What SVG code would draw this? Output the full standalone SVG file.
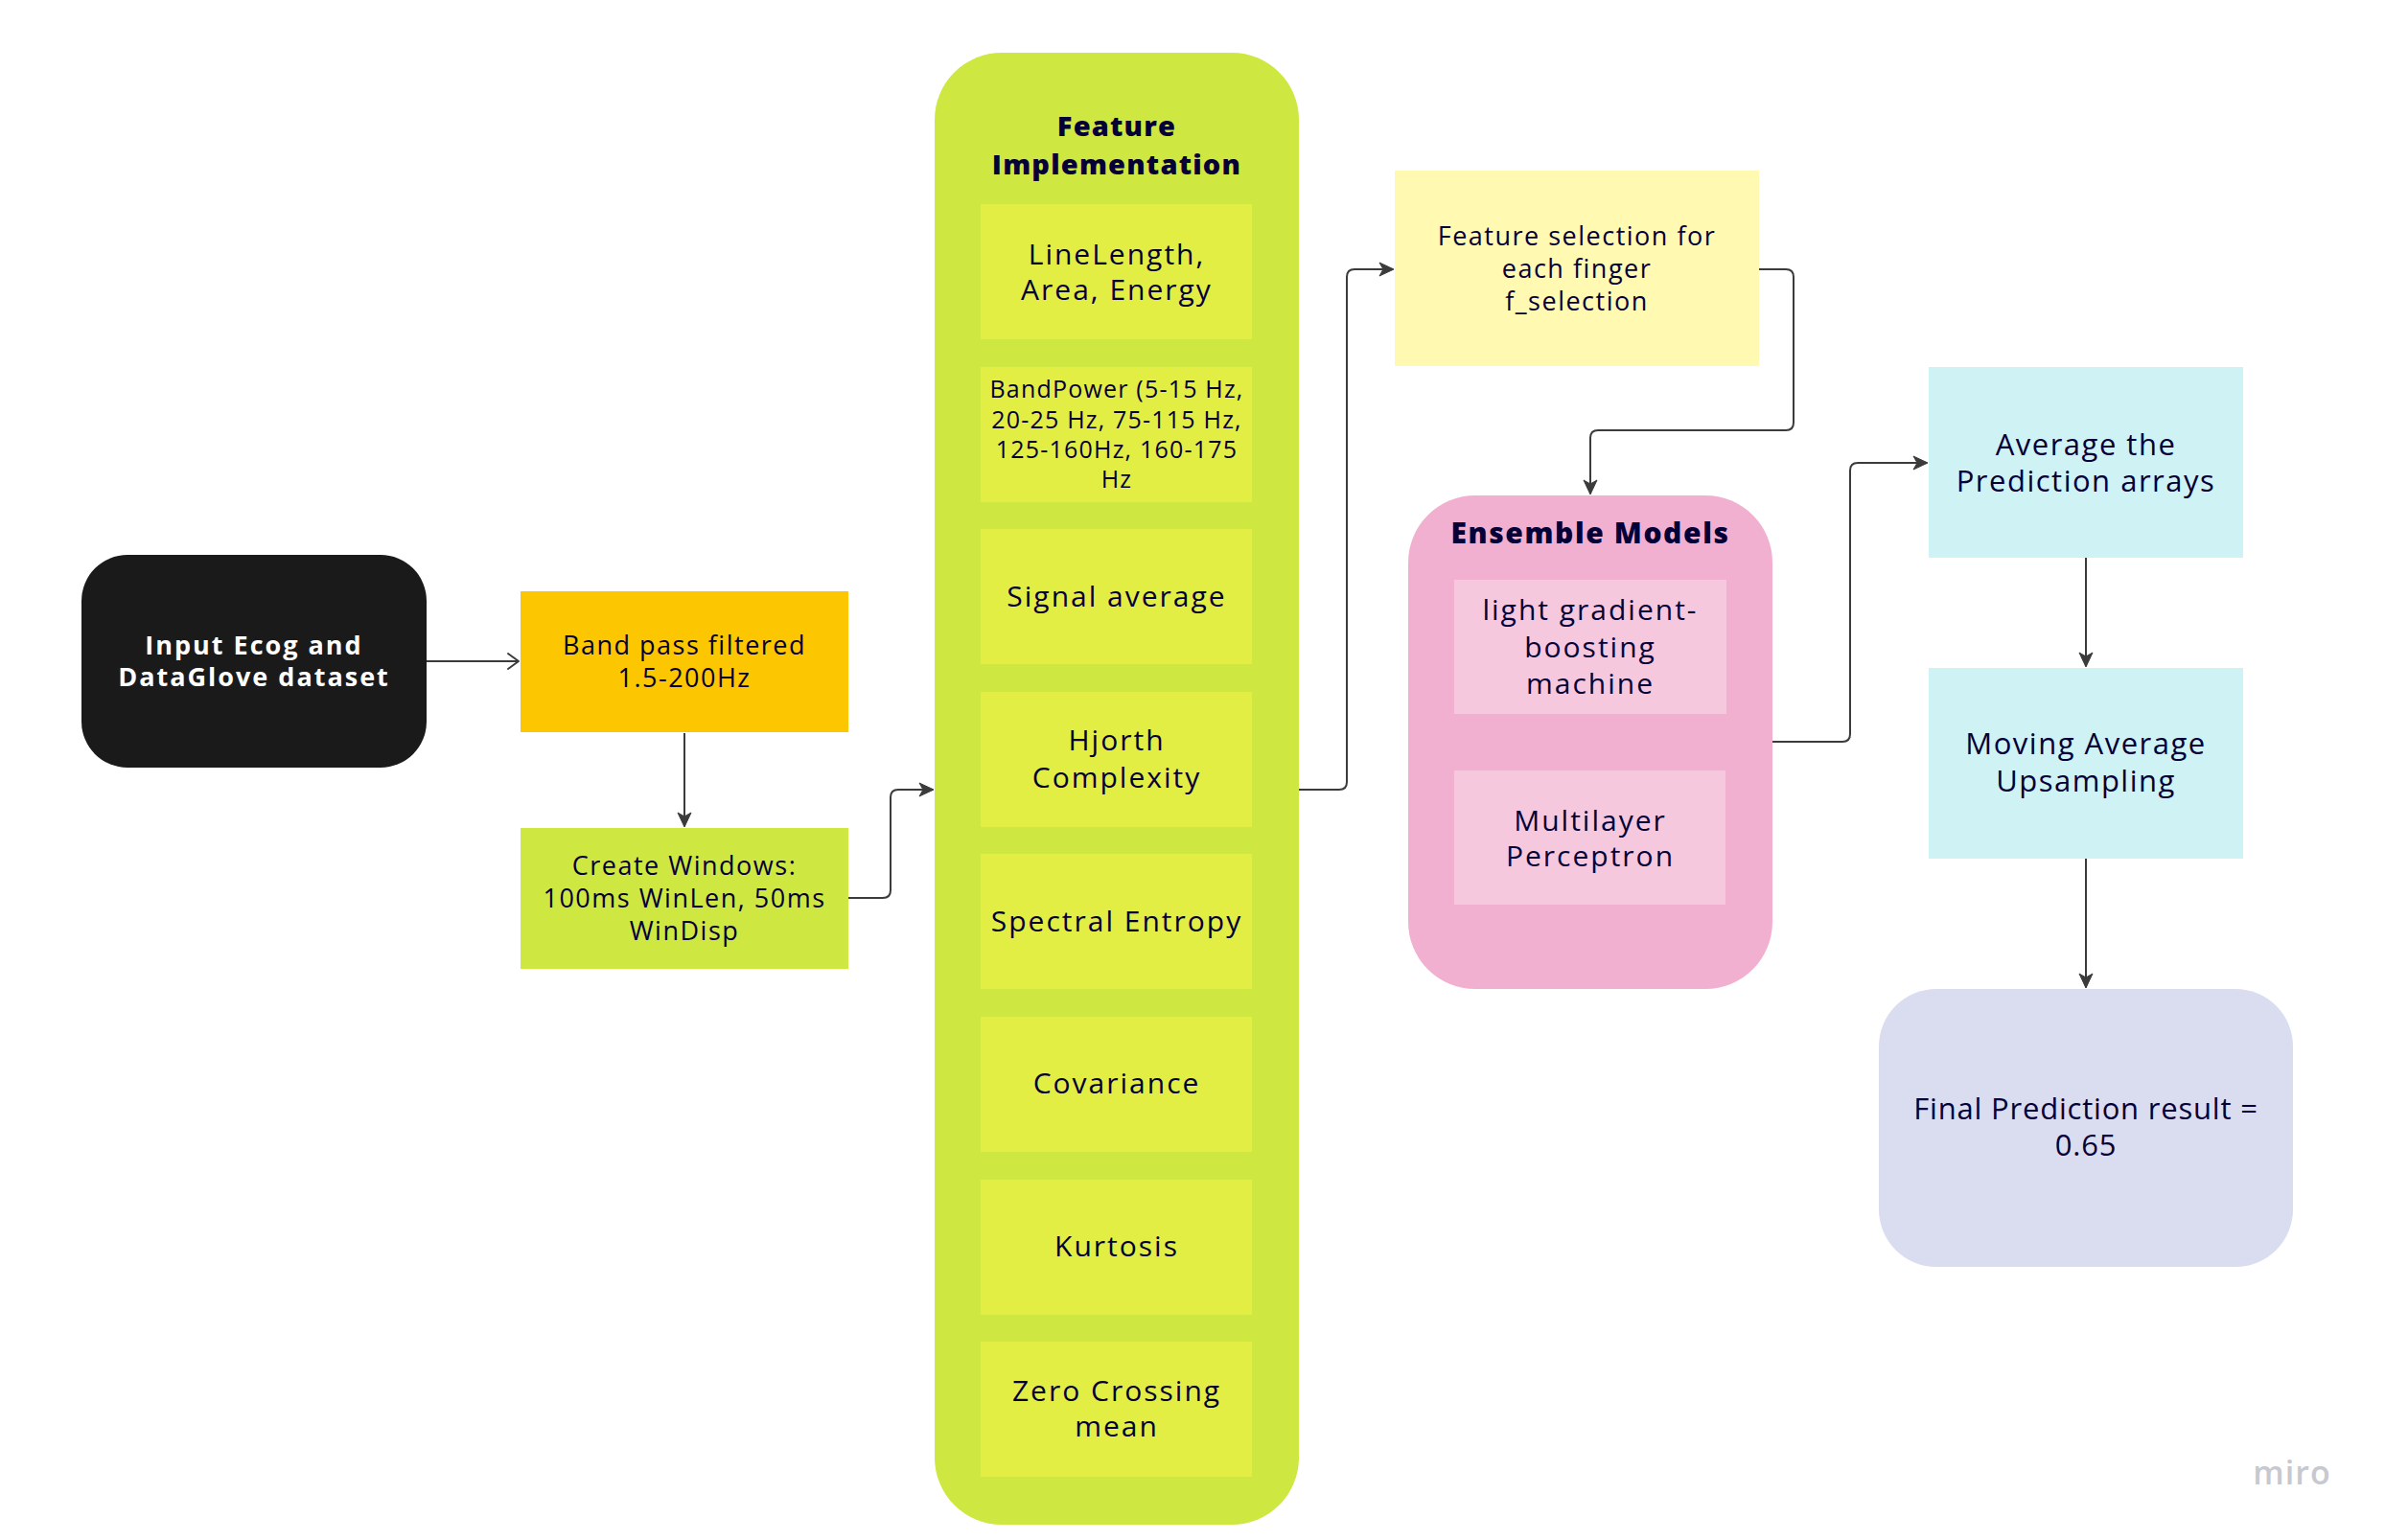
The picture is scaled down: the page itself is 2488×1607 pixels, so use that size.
<svg xmlns="http://www.w3.org/2000/svg" width="2488" height="1607" viewBox="0 0 2488 1607">
<style>
  text { font-family: "Open Sans", "Liberation Sans", sans-serif; text-anchor: middle; fill: #050038; }
  .t27 { font-size: 27px; letter-spacing: 1.5px; }
  .t30 { font-size: 30px; letter-spacing: 2px; }
  .t31 { font-size: 31px; letter-spacing: 1.5px; }
  .tf { font-size: 31px; letter-spacing: 0.8px; }
  .bp { font-size: 25px; letter-spacing: 1.2px; }
  .b { font-weight: 800; font-size: 29px; letter-spacing: 1.2px; }
  .be { font-weight: 800; font-size: 30px; letter-spacing: 1.6px; }
  .w { fill: #ffffff; font-weight: 700; font-size: 27px; letter-spacing: 2px; }
  .inner { fill: #E3EE45; }
  .conn { fill: none; stroke: #3b3b3b; stroke-width: 2; }
  .miro { font-size: 34px; fill: #C8C8D0; font-weight: 600; letter-spacing: 1px; }
</style>
<defs>
  <marker id="ah" viewBox="0 0 16 16" refX="15" refY="8" markerWidth="16" markerHeight="16" markerUnits="userSpaceOnUse" orient="auto">
    <path d="M1,1 L16,8 L1,15 L5,8 Z" fill="#3b3b3b" stroke="#3b3b3b" stroke-width="1" stroke-linejoin="round"/>
  </marker>
  <marker id="ao" viewBox="0 0 16 20" refX="14" refY="10" markerWidth="16" markerHeight="20" markerUnits="userSpaceOnUse" orient="auto">
    <path d="M3,2 L14,10 L3,18" fill="none" stroke="#3b3b3b" stroke-width="2" stroke-linecap="round" stroke-linejoin="round"/>
  </marker>
</defs>
<rect x="0" y="0" width="2488" height="1607" fill="#ffffff"/>

<g id="connectors">
  <path class="conn" d="M445,690 H541" marker-end="url(#ao)"/>
  <path class="conn" d="M714,765 V862" marker-end="url(#ah)"/>
  <path class="conn" d="M885,937 H921 Q929,937 929,929 V832 Q929,824 937,824 H973" marker-end="url(#ah)"/>
  <path class="conn" d="M1355,824 H1397 Q1405,824 1405,816 V289 Q1405,281 1413,281 H1453" marker-end="url(#ah)"/>
  <path class="conn" d="M1835,281 H1863 Q1871,281 1871,289 V441 Q1871,449 1863,449 H1667 Q1659,449 1659,457 V515" marker-end="url(#ah)"/>
  <path class="conn" d="M1849,774 H1922 Q1930,774 1930,766 V491 Q1930,483 1938,483 H2010" marker-end="url(#ah)"/>
  <path class="conn" d="M2176,582 V695" marker-end="url(#ah)"/>
  <path class="conn" d="M2176,896 V1030" marker-end="url(#ah)"/>
</g>

<g id="input">
  <rect x="85" y="579" width="360" height="222" rx="48" fill="#1A1A1A"/>
  <text class="w" x="265" y="683">Input Ecog and</text>
  <text class="w" x="265" y="716">DataGlove dataset</text>
</g>

<g id="bandpass">
  <rect x="543" y="617" width="342" height="147" fill="#FCC600"/>
  <text class="t27" x="714" y="683">Band pass filtered</text>
  <text class="t27" x="714" y="717">1.5-200Hz</text>
</g>

<g id="windows">
  <rect x="543" y="864" width="342" height="147" fill="#CEE741"/>
  <text class="t27" x="714" y="913">Create Windows:</text>
  <text class="t27" x="714" y="947">100ms WinLen, 50ms</text>
  <text class="t27" x="714" y="981">WinDisp</text>
</g>

<g id="features">
  <rect x="975" y="55" width="380" height="1536" rx="70" fill="#CEE741"/>
  <text class="b" x="1165" y="142">Feature</text>
  <text class="b" x="1165" y="182">Implementation</text>
  <g id="f-linelength">
    <rect class="inner" x="1023" y="213" width="283" height="141"/>
    <text class="t30" x="1165" y="276">LineLength,</text>
    <text class="t30" x="1165" y="313">Area, Energy</text>
  </g>
  <g id="f-bandpower">
    <rect class="inner" x="1023" y="383" width="283" height="141"/>
    <text class="bp" x="1165" y="415">BandPower (5-15 Hz,</text>
    <text class="bp" x="1165" y="447">20-25 Hz, 75-115 Hz,</text>
    <text class="bp" x="1165" y="478">125-160Hz, 160-175</text>
    <text class="bp" x="1165" y="509">Hz</text>
  </g>
  <g id="f-signal">
    <rect class="inner" x="1023" y="552" width="283" height="141"/>
    <text class="t30" x="1165" y="633">Signal average</text>
  </g>
  <g id="f-hjorth">
    <rect class="inner" x="1023" y="722" width="283" height="141"/>
    <text class="t30" x="1165" y="783">Hjorth</text>
    <text class="t30" x="1165" y="822">Complexity</text>
  </g>
  <g id="f-spectral">
    <rect class="inner" x="1023" y="891" width="283" height="141"/>
    <text class="t30" x="1165" y="972">Spectral Entropy</text>
  </g>
  <g id="f-covariance">
    <rect class="inner" x="1023" y="1061" width="283" height="141"/>
    <text class="t30" x="1165" y="1141">Covariance</text>
  </g>
  <g id="f-kurtosis">
    <rect class="inner" x="1023" y="1231" width="283" height="141"/>
    <text class="t30" x="1165" y="1311">Kurtosis</text>
  </g>
  <g id="f-zero">
    <rect class="inner" x="1023" y="1400" width="283" height="141"/>
    <text class="t30" x="1165" y="1462">Zero Crossing</text>
    <text class="t30" x="1165" y="1499">mean</text>
  </g>
</g>

<g id="selection">
  <rect x="1455" y="178" width="380" height="204" fill="#FFF9B1"/>
  <text class="t27" x="1645" y="256">Feature selection for</text>
  <text class="t27" x="1645" y="290">each finger</text>
  <text class="t27" x="1645" y="324">f_selection</text>
</g>

<g id="ensemble">
  <rect x="1469" y="517" width="380" height="515" rx="70" fill="#F2B0D0"/>
  <text class="be" x="1659" y="567">Ensemble Models</text>
  <g id="m-lgbm">
    <rect x="1517" y="605" width="284" height="140" fill="#F5C8DE"/>
    <text class="t30" x="1659" y="647">light gradient-</text>
    <text class="t30" x="1659" y="686">boosting</text>
    <text class="t30" x="1659" y="724">machine</text>
  </g>
  <g id="m-mlp">
    <rect x="1517" y="804" width="283" height="140" fill="#F5C8DE"/>
    <text class="t30" x="1659" y="867">Multilayer</text>
    <text class="t30" x="1659" y="904">Perceptron</text>
  </g>
</g>

<g id="average">
  <rect x="2012" y="383" width="328" height="199" fill="#CFF3F4"/>
  <text class="t31" x="2176" y="475">Average the</text>
  <text class="t31" x="2176" y="513">Prediction arrays</text>
</g>

<g id="upsampling">
  <rect x="2012" y="697" width="328" height="199" fill="#CFF3F4"/>
  <text class="t31" x="2176" y="787">Moving Average</text>
  <text class="t31" x="2176" y="826">Upsampling</text>
</g>

<g id="final">
  <rect x="1960" y="1032" width="432" height="290" rx="60" fill="#DADCF0"/>
  <text class="tf" x="2176" y="1168">Final Prediction result =</text>
  <text class="tf" x="2176" y="1206">0.65</text>
</g>

<text class="miro" x="2391" y="1549">miro</text>
</svg>
